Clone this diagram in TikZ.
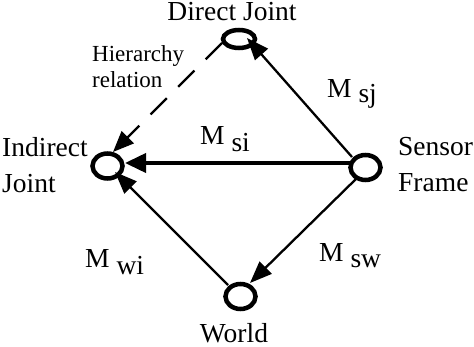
\documentclass[tikz,border=0pt]{standalone}
\usepackage{fontspec}
\setmainfont{Liberation Serif}
\usetikzlibrary{arrows.meta,calc,shapes.geometric}
\begin{document}
\begin{tikzpicture}[x=1pt,y=-1pt,
  joint/.style={draw,ellipse,line width=4.5pt,minimum width=30pt,minimum height=25pt,inner sep=0pt},
  txt/.style={inner sep=0pt,font=\fontsize{27.5}{30}\selectfont},
  small/.style={inner sep=0pt,font=\fontsize{23}{26}\selectfont},
  arr/.style={line width=2.3pt,-{Triangle[length=22pt,width=17pt]}},
  thickarr/.style={line width=3.8pt,-{Triangle[length=21pt,width=19pt]}},
  hier/.style={line width=2.3pt,dash pattern=on 23pt off 16pt,-{Triangle[length=21pt,width=17pt]}}]
\useasboundingbox (0,0) rectangle (474,347);
\node[joint,minimum width=32pt,minimum height=18pt] (dj) at (239,39) {};
\node[joint] (ij) at (107.5,166) {};
\node[joint] (sf) at (365.5,167.5) {};
\node[joint] (wd) at (240.5,296.5) {};
\draw[hier] ($(dj)+(-17,4)$) -- ($(ij)+(5.5,-14)$);
\draw[arr] ($(sf)+(-13.5,-10.5)$) -- ($(dj)+(8,-1)$);
\draw[thickarr] ($(sf)+(-15.5,-4.5)$) -- ($(ij)+(17.5,-3)$);
\draw[arr] ($(sf)+(-8.5,10.5)$) -- ($(wd)+(9.5,-13.5)$);
\draw[arr] ($(wd)+(-12.5,-11.5)$) -- ($(ij)+(7.5,6)$);
\node[txt,anchor=base] (tdj) at (232,21) {Direct Joint};
\node[txt,anchor=base west] (tij1) at (2,157) {Indirect};
\node[txt,anchor=base west] (tij2) at (2,193) {Joint};
\node[txt,anchor=base west] (tsf1) at (398,156) {Sensor};
\node[txt,anchor=base west] (tsf2) at (398,192) {Frame};
\node[txt,anchor=base] (twd) at (234,342) {World};
\node[small,anchor=base west] (th1) at (92,62) {Hierarchy};
\node[small,anchor=base west] (th2) at (92,88) {relation};
\node[txt,anchor=base west] (msj) at (327,98) {M \raisebox{-5pt}{sj}};
\node[txt,anchor=base west] (msi) at (200,145) {M \raisebox{-7pt}{si}};
\node[txt,anchor=base west] (mwi) at (85,268) {M \raisebox{-7pt}{wi}};
\node[txt,anchor=base west] (msw) at (319,262) {M \raisebox{-6pt}{sw}};
\end{tikzpicture}
\end{document}
